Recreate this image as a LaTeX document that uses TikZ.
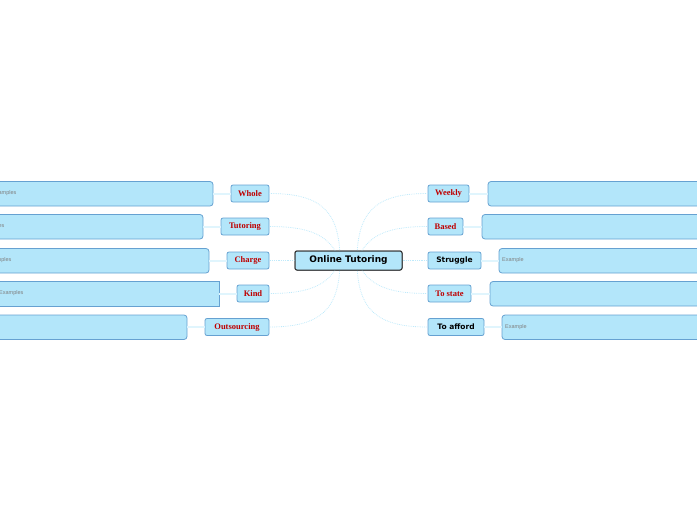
\documentclass[tikz,border=0pt]{standalone}
\usepackage{fontspec}
\setmainfont{Liberation Serif}
\newfontfamily\dvs{DejaVu Sans}
\newfontfamily\lsans{Liberation Sans}
\begin{document}
\begin{tikzpicture}[x=1pt,y=-1pt,
 lab/.style={draw=blue!45!cyan!70!black!60, fill=cyan!30!white, rounded corners=2pt, line width=0.8pt, inner sep=0pt, minimum height=17pt, font=\bfseries\fontsize{8.5}{9}\selectfont, text=red!75!black},
 labk/.style={lab, text=black, font=\dvs\bfseries\fontsize{7.5}{9}\selectfont},
 box/.style={draw=blue!45!cyan!70!black!60, fill=cyan!30!white, rounded corners=3pt, line width=0.8pt},
 ex/.style={font=\lsans\fontsize{5.5}{6}\selectfont, text=gray, anchor=west, inner sep=0pt},
 conn/.style={cyan!25, densely dotted, line width=0.8pt},
 stub/.style={cyan!12, line width=2pt},
 ctr/.style={draw=black!80, fill=cyan!30!white, rounded corners=2pt, line width=1pt, minimum width=107pt, minimum height=19pt, inner sep=0pt, font=\dvs\bfseries\fontsize{9}{10}\selectfont}]
\useasboundingbox (0,0) rectangle (697,520);
\clip (0,0) rectangle (697,520);
\node[ctr] (c) at (348.5,260.5) {Online Tutoring};
% left
\foreach \n/\t/\xl/\y/\bx/\tx/\sq in {w/Whole/231/193.5/213/-8/0,t/Tutoring/221/226.5/203/-20/0,ch/Charge/227/260.5/209/-13/0,k/Kind/237/293.5/219/-1/1,o/Outsourcing/205/327/187/999/0}{
  \node[lab, minimum width={269-\xl}] (\n) at ({(269+\xl)/2},\y) {\t};
  \ifnum\sq=1
   \draw[box, rounded corners=0pt] (-20,\y-12) rectangle (\bx,\y+12.5);
  \else
   \draw[box] (-20,\y-12) rectangle (\bx,\y+12.5);
  \fi
  \coordinate (b\n) at (\bx,\y);
  \draw[stub] (b\n) -- (\n.west);
  \ifnum\tx<999 \node[ex] at (\tx,\y) {Examples}; \fi
}
% right
\foreach \n/\t/\xr/\y/\bx/\st/\e in {we/Weekly/469/193.5/488/lab/0,ba/Based/463/226.5/482/lab/0,s/Struggle/481/260.5/499/labk/1,ts/To state/471/293.5/490/lab/0,ta/To afford/484/327/502/labk/1}{
  \node[\st, minimum width={\xr-428}] (\n) at ({(428+\xr)/2},\y) {\t};
  \draw[box] (\bx,\y-12) rectangle (720,\y+12.5);
  \coordinate (b\n) at (\bx,\y);
  \draw[stub] (\n.east) -- (b\n);
  \ifnum\e=1 \node[ex] at (\bx+3,\y) {Example}; \fi
}
% connectors
\coordinate (cl) at (340,260.5);
\coordinate (cr) at (357,260.5);
\draw[conn] (c.west) -- (ch.east);
\draw[conn] (cl) .. controls (340,210) and (320,193.5) .. (w.east);
\draw[conn] (cl) .. controls (330,235) and (310,226.5) .. (t.east);
\draw[conn] (cl) .. controls (330,285) and (310,293.5) .. (k.east);
\draw[conn] (cl) .. controls (340,310) and (320,327) .. (o.east);
\draw[conn] (c.east) -- (s.west);
\draw[conn] (cr) .. controls (357,210) and (377,193.5) .. (we.west);
\draw[conn] (cr) .. controls (367,235) and (387,226.5) .. (ba.west);
\draw[conn] (cr) .. controls (367,285) and (387,293.5) .. (ts.west);
\draw[conn] (cr) .. controls (357,310) and (377,327) .. (ta.west);
\node[ctr] at (c) {Online Tutoring};
\end{tikzpicture}
\end{document}
